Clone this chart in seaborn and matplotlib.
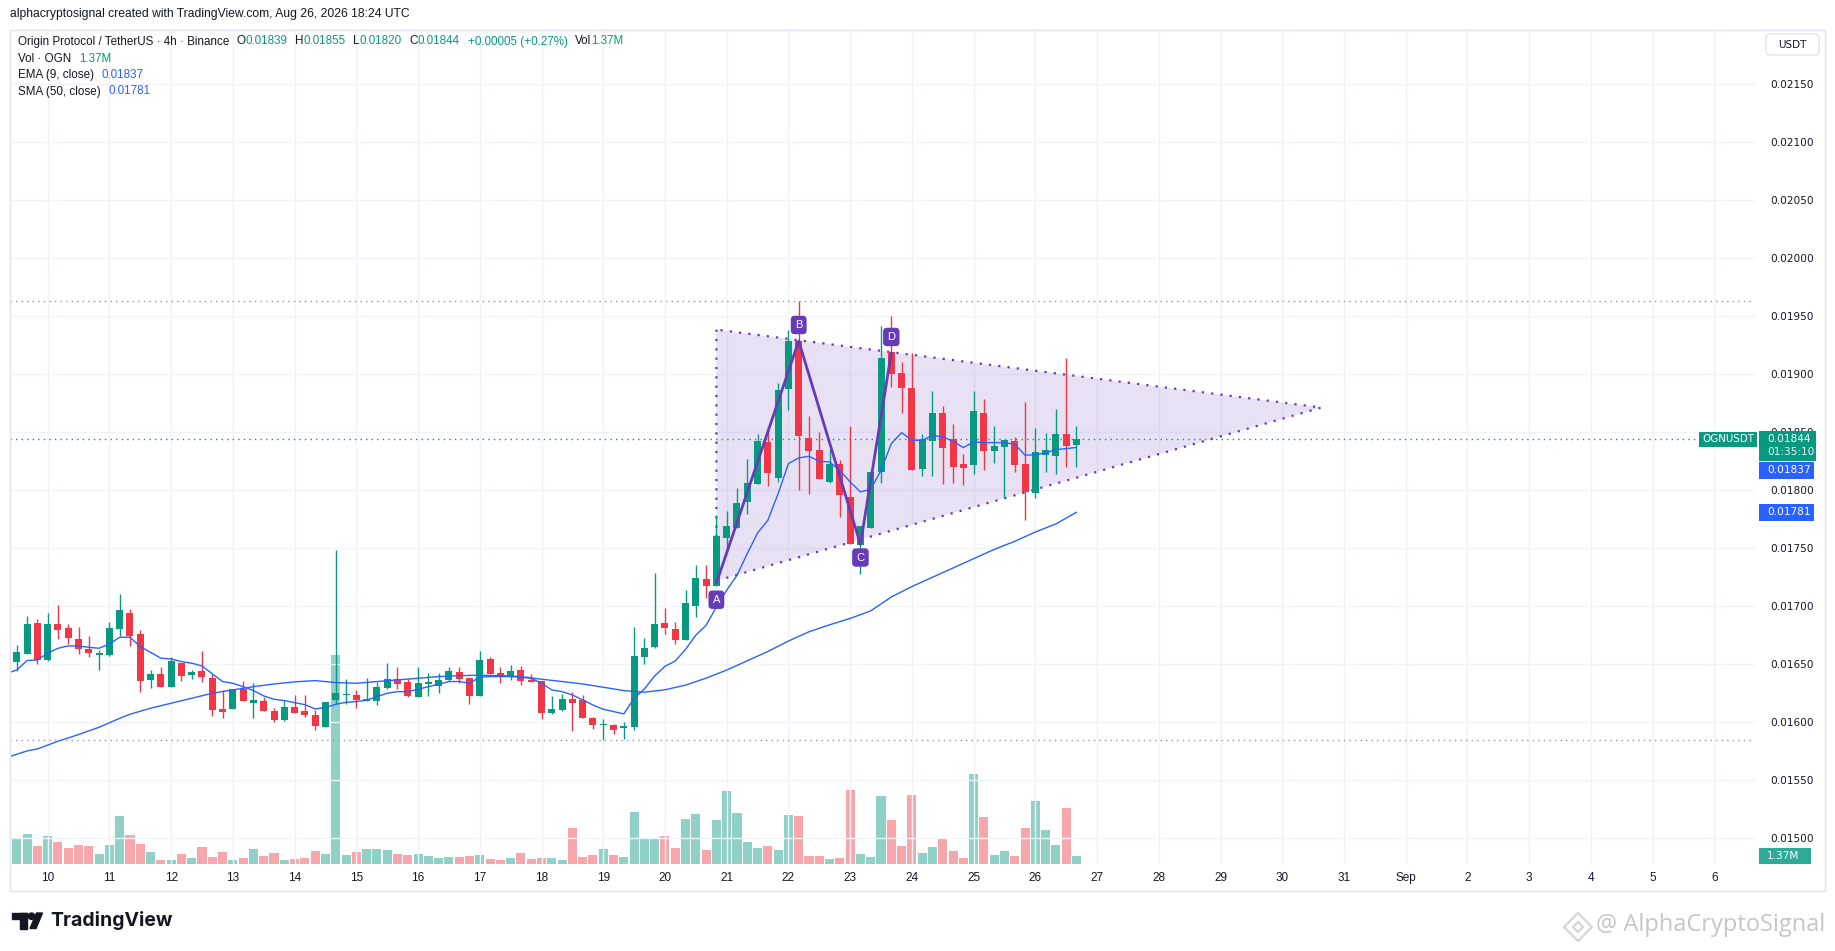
import numpy as np
import pandas as pd
import seaborn as sns
import matplotlib.pyplot as plt
import matplotlib.transforms as mtransforms
from matplotlib.patches import Rectangle, Polygon, FancyBboxPatch, Circle

# OGN/USDT 4h candles (Aug 9 08:00 -> Aug 26 16:00)
opens = [0.016974, 0.016523, 0.016589, 0.016856, 0.016537, 0.016848, 0.016813, 0.016718, 0.016632, 0.016580,
         0.016580, 0.016805, 0.016943, 0.016761, 0.016365, 0.016417, 0.016304, 0.016511, 0.016408, 0.016443,
         0.016382, 0.016115, 0.016115, 0.016287, 0.016167, 0.016184, 0.016098, 0.016020, 0.016132, 0.016098,
         0.016063, 0.015960, 0.016192, 0.016236, 0.016236, 0.016184, 0.016184, 0.016296, 0.016373, 0.016348,
         0.016218, 0.016333, 0.016313, 0.016365, 0.016434, 0.016382, 0.016227, 0.016546, 0.016425, 0.016399,
         0.016451, 0.016365, 0.016356, 0.016080, 0.016106, 0.016201, 0.016192, 0.016037, 0.015974, 0.015977,
         0.015954, 0.015960, 0.016563, 0.016649, 0.016856, 0.016805, 0.016710, 0.017003, 0.017236, 0.017175,
         0.017586, 0.017672, 0.017897, 0.018052, 0.018414, 0.018103, 0.018871, 0.019284, 0.018448, 0.018345,
         0.018069, 0.018224, 0.017940, 0.017526, 0.017672, 0.018155, 0.019190, 0.019009, 0.018879, 0.018181,
         0.018422, 0.018664, 0.018440, 0.018224, 0.018216, 0.018664, 0.018336, 0.018371, 0.018422, 0.018224,
         0.017974, 0.018302, 0.018293, 0.018483, 0.018390]
highs = [0.016974, 0.016667, 0.016917, 0.016891, 0.016943, 0.017011, 0.016848, 0.016822, 0.016744, 0.016624,
         0.016865, 0.017106, 0.016977, 0.016796, 0.016451, 0.016477, 0.016563, 0.016511, 0.016451, 0.016615,
         0.016417, 0.016279, 0.016287, 0.016356, 0.016339, 0.016218, 0.016124, 0.016184, 0.016236, 0.016236,
         0.016106, 0.016175, 0.017486, 0.016373, 0.016279, 0.016382, 0.016348, 0.016511, 0.016477, 0.016373,
         0.016477, 0.016425, 0.016425, 0.016477, 0.016477, 0.016382, 0.016615, 0.016563, 0.016477, 0.016494,
         0.016486, 0.016417, 0.016356, 0.016227, 0.016244, 0.016261, 0.016236, 0.016046, 0.016029, 0.015986,
         0.016003, 0.016822, 0.016727, 0.017287, 0.016986, 0.016865, 0.017141, 0.017356, 0.017356, 0.017784,
         0.017819, 0.018017, 0.018267, 0.018483, 0.018552, 0.018922, 0.019379, 0.019629, 0.018638, 0.018500,
         0.018353, 0.018259, 0.018552, 0.017690, 0.018155, 0.019414, 0.019500, 0.019103, 0.019181, 0.018483,
         0.018853, 0.018724, 0.018569, 0.018310, 0.018853, 0.018784, 0.018552, 0.018431, 0.018457, 0.018759,
         0.018534, 0.018491, 0.018698, 0.019138, 0.018550]
lows = [0.016537, 0.016445, 0.016589, 0.016503, 0.016529, 0.016718, 0.016675, 0.016589, 0.016563, 0.016451,
        0.016572, 0.016744, 0.016658, 0.016261, 0.016296, 0.016304, 0.016304, 0.016356, 0.016373, 0.016348,
        0.016055, 0.016037, 0.016115, 0.016184, 0.016037, 0.016098, 0.016003, 0.016011, 0.016080, 0.016046,
        0.015934, 0.015960, 0.016158, 0.016158, 0.016124, 0.016184, 0.016149, 0.016287, 0.016287, 0.016218,
        0.016218, 0.016227, 0.016253, 0.016356, 0.016339, 0.016158, 0.016227, 0.016417, 0.016339, 0.016365,
        0.016322, 0.016348, 0.016029, 0.016072, 0.016098, 0.015925, 0.016037, 0.015942, 0.015848, 0.015899,
        0.015856, 0.015934, 0.016503, 0.016641, 0.016761, 0.016675, 0.016710, 0.016908, 0.017072, 0.017175,
        0.017483, 0.017672, 0.017793, 0.018052, 0.018034, 0.018069, 0.018690, 0.018000, 0.017966, 0.018095,
        0.018060, 0.017767, 0.017534, 0.017276, 0.017672, 0.018060, 0.018888, 0.018664, 0.018172, 0.018121,
        0.018121, 0.018052, 0.018060, 0.018043, 0.018138, 0.018172, 0.018233, 0.017931, 0.018155, 0.017741,
        0.017931, 0.018155, 0.018138, 0.018198, 0.018200]
closes = [0.016552, 0.016606, 0.016848, 0.016537, 0.016848, 0.016796, 0.016727, 0.016632, 0.016598, 0.016598,
          0.016813, 0.016968, 0.016744, 0.016356, 0.016417, 0.016304, 0.016529, 0.016399, 0.016434, 0.016391,
          0.016106, 0.016089, 0.016287, 0.016184, 0.016192, 0.016098, 0.016020, 0.016132, 0.016080, 0.016063,
          0.015968, 0.016175, 0.016253, 0.016244, 0.016192, 0.016201, 0.016304, 0.016373, 0.016330, 0.016227,
          0.016339, 0.016339, 0.016365, 0.016443, 0.016373, 0.016227, 0.016537, 0.016417, 0.016399, 0.016443,
          0.016356, 0.016348, 0.016080, 0.016115, 0.016201, 0.016167, 0.016037, 0.015977, 0.015986, 0.015934,
          0.015966, 0.016572, 0.016641, 0.016848, 0.016813, 0.016710, 0.017029, 0.017244, 0.017175, 0.017603,
          0.017690, 0.017888, 0.018060, 0.018422, 0.018147, 0.018862, 0.019284, 0.018466, 0.018336, 0.018095,
          0.018224, 0.017957, 0.017534, 0.017690, 0.018155, 0.019138, 0.019000, 0.018879, 0.018172, 0.018440,
          0.018664, 0.018362, 0.018198, 0.018190, 0.018681, 0.018336, 0.018379, 0.018431, 0.018216, 0.017983,
          0.018328, 0.018345, 0.018483, 0.018379, 0.018440]
volumes_m = [11.7, 4.34, 5.19, 3.14, 4.85, 3.82, 2.80, 3.31, 3.14, 1.77,
             3.31, 8.28, 5.02, 3.48, 2.11, 0.74, 0.74, 1.77, 1.08, 2.97,
             1.26, 2.11, 0.74, 1.08, 2.63, 1.43, 1.94, 0.74, 0.91, 1.08,
             2.28, 1.77, 35.85, 1.60, 2.11, 2.63, 2.63, 2.46, 1.77, 1.60,
             1.77, 1.43, 1.08, 1.26, 1.26, 1.43, 1.60, 0.91, 0.74, 1.08,
             1.94, 0.91, 1.08, 1.08, 0.74, 6.22, 1.26, 1.60, 2.63, 1.60,
             1.26, 8.91, 4.45, 4.45, 4.80, 2.74, 7.71, 8.56, 2.40, 7.54,
             12.50, 8.73, 3.77, 2.74, 3.08, 2.40, 8.39, 8.22, 1.37, 1.37,
             0.86, 1.03, 12.67, 1.71, 1.20, 11.65, 7.54, 3.08, 11.82, 1.88,
             2.91, 4.45, 2.23, 1.03, 15.41, 8.05, 1.54, 2.23, 1.37, 6.17,
             10.79, 5.82, 3.25, 9.59, 1.37]
ema9 = [0.016420, 0.016451, 0.016532, 0.016537, 0.016595, 0.016638, 0.016658, 0.016658, 0.016646, 0.016638,
        0.016675, 0.016733, 0.016733, 0.016652, 0.016603, 0.016552, 0.016546, 0.016523, 0.016509, 0.016486,
        0.016417, 0.016351, 0.016336, 0.016307, 0.016273, 0.016227, 0.016198, 0.016187, 0.016169, 0.016152,
        0.016115, 0.016126, 0.016155, 0.016172, 0.016178, 0.016190, 0.016221, 0.016250, 0.016264, 0.016264,
        0.016284, 0.016307, 0.016328, 0.016351, 0.016351, 0.016336, 0.016388, 0.016394, 0.016394, 0.016394,
        0.016388, 0.016379, 0.016336, 0.016279, 0.016264, 0.016236, 0.016192, 0.016149, 0.016112, 0.016092,
        0.016072, 0.016207, 0.016287, 0.016399, 0.016482, 0.016528, 0.016628, 0.016751, 0.016836, 0.016994,
        0.017138, 0.017267, 0.017454, 0.017632, 0.017741, 0.017971, 0.018230, 0.018279, 0.018293, 0.018250,
        0.018244, 0.018172, 0.018072, 0.017986, 0.018009, 0.018172, 0.018402, 0.018497, 0.018431, 0.018431,
        0.018474, 0.018460, 0.018422, 0.018368, 0.018417, 0.018411, 0.018411, 0.018411, 0.018397, 0.018302,
        0.018307, 0.018322, 0.018351, 0.018359, 0.018370]
sma50_idx = [0, 2, 3, 5, 7, 9, 11, 12, 14, 16, 18, 20, 22, 24, 26, 28, 30, 32, 34, 36, 38, 40, 42, 44, 46,
             48, 50, 52, 54, 56, 58, 60, 62, 64, 66, 68, 70, 72, 74, 76, 78, 80, 82, 84, 86, 88, 90, 92, 94,
             96, 98, 100, 102, 104]
sma50 = [0.015695, 0.015753, 0.015770, 0.015836, 0.015894, 0.015957, 0.016034, 0.016069, 0.016121, 0.016164,
         0.016207, 0.016250, 0.016279, 0.016307, 0.016330, 0.016348, 0.016359, 0.016342, 0.016336, 0.016351,
         0.016365, 0.016379, 0.016394, 0.016402, 0.016405, 0.016402, 0.016394, 0.016371, 0.016351, 0.016330,
         0.016302, 0.016273, 0.016259, 0.016280, 0.016320, 0.016380, 0.016450, 0.016530, 0.016610, 0.016700,
         0.016780, 0.016840, 0.016895, 0.016960, 0.017080, 0.017170, 0.017250, 0.017330, 0.017410, 0.017490,
         0.017560, 0.017640, 0.017710, 0.017810]

day_labels = ["10", "11", "12", "13", "14", "15", "16", "17", "18", "19", "20", "21", "22", "23", "24",
              "25", "26", "27", "28", "29", "30", "31", "Sep", "2", "3", "4", "5", "6"]
first_day_candle = 4      # Aug 10 00:00
candles_per_day = 6
price_ticks = [0.0150, 0.0155, 0.0160, 0.0165, 0.0170, 0.0175, 0.0180, 0.0185, 0.0190, 0.0195,
               0.0200, 0.0205, 0.0210, 0.0215]

# drawings
tri_x = [69, 69, 127.8]
tri_y = [0.019385, 0.017220, 0.018713]
abcd_names = ["A", "B", "C", "D"]
abcd_x = [69, 77, 83, 86]
abcd_y = [0.017200, 0.019287, 0.017534, 0.019184]
abcd_dy = [-12, 11.5, -9.5, 11.5]
level_high = 0.019629
level_low = 0.015845
last_price = 0.01844
ema_last = 0.01837
sma_last = 0.01781
vol_last = 1.37

GREEN = "#089981"
RED = "#f23645"
BLUE = "#2962ff"
PURPLE = "#673ab7"
DARK = "#131722"
GRID = "#f0f3fa"

df = pd.DataFrame({"open": opens, "high": highs, "low": lows, "close": closes, "vol": volumes_m})
df["i"] = np.arange(len(df))
df["up"] = df["close"] >= df["open"]
colors = np.where(df["up"], GREEN, RED)
vcolors = np.where(df["up"], "#8fd1c6", "#f7a6ab")

sns.set_theme(style="white")
plt.rcParams["font.family"] = ["Liberation Sans", "DejaVu Sans"]

W, H = 1835, 951
fig = plt.figure(figsize=(W / 100, H / 100), dpi=100)
fig.patch.set_facecolor("white")
ax = fig.add_axes([9.5 / W, 1 - 864 / H, (1755 - 9.5) / W, (864 - 30) / H])
vax = ax.twinx()
ax.set_zorder(vax.get_zorder() + 1)
ax.patch.set_visible(False)
ov = fig.add_axes([0, 0, 1, 1])
ov.set_xlim(0, W)
ov.set_ylim(H, 0)
ov.axis("off")
ov.set_zorder(5)

YMIN, YMAX = 0.014778, 0.021968
VMAX = 142.8

# volume
vax.bar(df["i"], df["vol"], width=0.88, color=vcolors, linewidth=0)
vax.set_ylim(0, VMAX)
vax.set_yticks([])

# grid
for p in price_ticks:
    ax.axhline(p, color=GRID, lw=1, zorder=0)
day_pos = [first_day_candle + candles_per_day * k for k in range(len(day_labels))]
for d in day_pos:
    ax.axvline(d, color=GRID, lw=1, zorder=0)

# triangle pattern
ax.add_patch(Polygon(list(zip(tri_x, tri_y)), closed=True, facecolor=(103 / 255, 58 / 255, 183 / 255, 0.15),
                     edgecolor="none", zorder=1))
ax.plot(tri_x + [tri_x[0]], tri_y + [tri_y[0]], color=PURPLE, lw=1.6, linestyle=(0, (1, 3.2)), zorder=1.5)

# level lines
ax.axhline(level_high, color="#9598a1", lw=1, linestyle=(0, (1, 3)), zorder=1.2)
ax.axhline(level_low, color="#9598a1", lw=1, linestyle=(0, (1, 3)), zorder=1.2)
ax.axhline(last_price, color=GREEN, lw=1, linestyle=(0, (1, 3)), zorder=1.2)

# candles
body_low = np.minimum(df["open"], df["close"])
body_h = np.maximum((df["close"] - df["open"]).abs(), 0.00001)
ax.vlines(df["i"], df["low"], df["high"], colors=colors, lw=1, zorder=3)
ax.bar(df["i"], body_h, bottom=body_low, width=0.68, color=colors, linewidth=0, zorder=3.1)

# moving averages
sns.lineplot(x=df["i"], y=ema9, ax=ax, color=BLUE, lw=1, zorder=4, legend=False)
sns.lineplot(x=sma50_idx, y=sma50, ax=ax, color=BLUE, lw=1, zorder=4, legend=False)

# ABCD
ax.plot(abcd_x, abcd_y, color=PURPLE, lw=2, zorder=5, solid_capstyle="round")
for name, x, y, dy in zip(abcd_names, abcd_x, abcd_y, abcd_dy):
    ax.annotate(name, (x, y), xytext=(0, dy), textcoords="offset points", ha="center", va="center",
                color="white", fontsize=8,
                bbox=dict(boxstyle="round,pad=0.38,rounding_size=0.35", fc=PURPLE, ec="none"), zorder=6)

# axes
ax.set_xlim(0.29, 169.95)
ax.set_ylim(YMIN, YMAX)
ax.yaxis.tick_right()
ax.set_yticks(price_ticks)
ax.set_yticklabels([f"{p:.5f}" for p in price_ticks])
ax.tick_params(axis="y", length=0, pad=11, labelsize=7.6, labelcolor=DARK)
for lbl in ax.get_yticklabels():
    lbl.set_fontfamily("DejaVu Sans")
ax.set_xticks(day_pos)
ax.set_xticklabels(day_labels)
ax.tick_params(axis="x", length=0, pad=6, labelsize=8.5, labelcolor=DARK)
ax.set_xlabel("")
ax.set_ylabel("")
vax.set_ylabel("")
for a in (ax, vax):
    for s in a.spines.values():
        s.set_visible(False)

# price scale tags
ppx = (YMAX - YMIN) / 834
vpx = VMAX / 834
pblend = mtransforms.blended_transform_factory(ov.transData, ax.transData)
vblend = mtransforms.blended_transform_factory(ov.transData, vax.transData)


def tag(owner, trans, unit, y, x0, x1, up, down, color):
    owner.add_patch(Rectangle((x0, y - down * unit), x1 - x0, (up + down) * unit, transform=trans,
                              facecolor=color, edgecolor="none", clip_on=False, zorder=10))


tag(ax, pblend, ppx, last_price, 1759, 1816, 8, 22, GREEN)
ax.text(1767, last_price, f"{last_price:.5f}", transform=pblend, color="white", fontsize=7.6,
        family="DejaVu Sans", va="center", ha="left", clip_on=False, zorder=11)
ax.text(1767, last_price - 13 * ppx, "01:35:10", transform=pblend, color="#e6f4f1", fontsize=7.6,
        family="DejaVu Sans", va="center", ha="left", clip_on=False, zorder=11)
tag(ax, pblend, ppx, last_price, 1699, 1757, 7.5, 7.5, GREEN)
ax.text(1728, last_price, "OGNUSDT", transform=pblend, color="white", fontsize=7.4,
        family="DejaVu Sans", va="center", ha="center", clip_on=False, zorder=11)
ema_tag_y = ema_last - 23 * ppx
tag(ax, pblend, ppx, ema_tag_y, 1759, 1814, 8.5, 8.5, BLUE)
ax.text(1767, ema_tag_y, f"{ema_last:.5f}", transform=pblend, color="white", fontsize=7.6,
        family="DejaVu Sans", va="center", ha="left", clip_on=False, zorder=11)
tag(ax, pblend, ppx, sma_last, 1759, 1814, 8.5, 8.5, BLUE)
ax.text(1767, sma_last, f"{sma_last:.5f}", transform=pblend, color="white", fontsize=7.6,
        family="DejaVu Sans", va="center", ha="left", clip_on=False, zorder=11)
tag(vax, vblend, vpx, vol_last, 1759, 1811, 8, 8, "#2eab98")
vax.text(1767, vol_last, f"{vol_last:.2f}M", transform=vblend, color="white", fontsize=7.6,
         family="DejaVu Sans", va="center", ha="left", clip_on=False, zorder=11)

# frame, header and branding
ov.add_patch(Rectangle((10, 30), 1815, 861, fill=False, edgecolor="#e0e3eb", lw=1))
ov.add_patch(FancyBboxPatch((1766, 34), 53, 21, boxstyle="round,pad=0,rounding_size=4",
                            fc="white", ec="#e0e3eb", lw=1))
ov.text(1792.5, 44.5, "USDT", fontsize=7.5, color=DARK, ha="center", va="center", family="DejaVu Sans")

ov.text(10, 14, "alphacryptosignal created with TradingView.com, Aug 26, 2026 18:24 UTC",
        fontsize=8.7, color=DARK, va="center", ha="left")


def chain(x, y, pieces, size=8.4):
    t = ov.text(x, y, pieces[0][0], color=pieces[0][1], fontsize=size, va="center", ha="left")
    for s, col, gap in pieces[1:]:
        t = ov.annotate(s, xy=(1, 0), xycoords=t, xytext=(gap, 0), textcoords="offset points",
                        color=col, fontsize=size, va="bottom", ha="left")


g = 5.4
chain(18, 41.5, [("Origin Protocol / TetherUS · 4h · Binance", DARK, 0),
                 ("O", DARK, g), ("0.01839", GREEN, 0), ("H", DARK, g), ("0.01855", GREEN, 0),
                 ("L", DARK, g), ("0.01820", GREEN, 0), ("C", DARK, g), ("0.01844", GREEN, 0),
                 ("+0.00005 (+0.27%)", GREEN, g), ("Vol", DARK, g), ("1.37M", GREEN, 0)])
chain(18, 58.5, [("Vol · OGN", DARK, 0), ("1.37M", GREEN, g)])
chain(18, 75, [("EMA (9, close)", DARK, 0), ("0.01837", BLUE, g)])
chain(18, 91.5, [("SMA (50, close)", DARK, 0), ("0.01781", BLUE, g)])

# TradingView logo
ov.add_patch(Rectangle((12, 913), 15, 6, color=DARK))
ov.add_patch(Rectangle((20, 913), 7, 15.5, color=DARK))
ov.add_patch(Circle((31.5, 916.2), 3.2, color=DARK))
ov.add_patch(Polygon([(30, 928.5), (36, 928.5), (42.5, 913), (36.5, 913)], closed=True, color=DARK))
ov.text(50, 921, "TradingView", fontsize=14, fontweight="bold", color=DARK, va="center", ha="left",
        family=["Inter", "Liberation Sans"])

# watermark
wx, wy = 1578, 927
for hs in (14, 5):
    ov.plot([wx, wx + hs, wx, wx - hs, wx], [wy - hs, wy, wy + hs, wy, wy - hs], color="#d6d6d6", lw=1.6)
ov.text(1596, 925, "@ AlphaCryptoSignal", fontsize=17, color="#c6c6c6", va="center", ha="left",
        family=["Open Sans", "DejaVu Sans"])

fig.savefig("out.png", dpi=100, facecolor="white")
